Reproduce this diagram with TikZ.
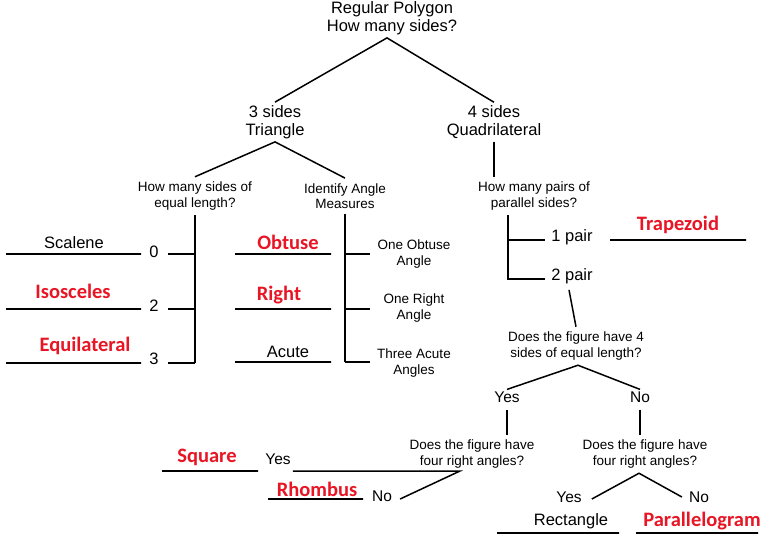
\documentclass[tikz,border=0pt]{standalone}
\usepackage{fontspec}
\setmainfont{Liberation Sans}
\newfontfamily\ansfont{Carlito}
\usetikzlibrary{positioning}
\definecolor{ansred}{RGB}{232,22,36}

\begin{document}
\begin{tikzpicture}[x=1pt, y=-1pt,
  lbl/.style={font=\fontsize{16.5}{18}\selectfont, align=center,
              inner xsep=2pt, inner ysep=3pt},
  qst/.style={font=\fontsize{13.5}{15.5}\selectfont, align=center,
              inner xsep=2pt, inner ysep=5pt},
  yn/.style={font=\fontsize{15.5}{17}\selectfont, inner sep=2pt},
  ans/.style={font=\ansfont\bfseries\fontsize{20.5}{22}\selectfont,
              text=ansred, inner sep=0pt},
  blank/.style={draw, line width=1.5pt, minimum height=0pt, inner sep=0pt},
  ln/.style={line width=1.5pt}
]
\fill[white] (0,0) rectangle (768,547);
\useasboundingbox (0,0) rectangle (768,547);

% Top question
\node[lbl] (root) at (392,18) {Regular Polygon\\How many sides?};
\node[lbl] (tri) at (275,122) {3 sides\\Triangle};
\node[lbl] (quad) at (494,122) {4 sides\\Quadrilateral};
\draw[ln] (tri.north) -- ([xshift=-5pt]root.south) -- (quad.north);

% Triangle questions
\node[qst] (qsides) at (195,196) {How many sides of\\equal length?};
\node[qst] (qangle) at (345,196) {Identify Angle\\Measures};
\draw[ln] (qsides.north) -- (tri.south) -- (qangle.north);

% Sides of equal length
\node[lbl] (n0) at (154,252) {0};
\node[lbl] (n2) at (154,306) {2};
\node[lbl] (n3) at (154,359) {3};
\node[blank, minimum width=135pt] (b0) at (73.5,254) {};
\node[blank, minimum width=135pt] (b2) at (73.5,309) {};
\node[blank, minimum width=135pt] (b3) at (73.5,363) {};
\node[lbl] (scal) at (74,243) {Scalene};
\node[ans] (isos) at (73,291) {Isosceles};
\node[ans] (equi) at (85,346) {Equilateral};
\draw[ln] (qsides.south) -- (qsides.south |- b3);
\foreach \n/\b in {n0/b0, n2/b2, n3/b3}
  \draw[ln] ([xshift=7pt]\n.east |- \b) -- (qsides.south |- \b);

% Angle measures
\node[blank, minimum width=96pt] (bo) at (283,254) {};
\node[blank, minimum width=96pt] (br) at (283,309) {};
\node[blank, minimum width=96pt] (ba) at (283,362) {};
\node[ans] (obt) at (288,242) {Obtuse};
\node[ans] (rgt) at (279,295) {Right};
\node[lbl] (acu) at (288,352) {Acute};
\node[qst] (ao) at (414,254) {One Obtuse\\Angle};
\node[qst] (ar) at (414,308) {One Right\\Angle};
\node[qst] (aa) at (414,363) {Three Acute\\Angles};
\draw[ln] (qangle.south) -- (qangle.south |- ba);
\foreach \b in {bo, br, ba}
  \draw[ln] (qangle.south |- \b) -- ([xshift=-5pt]ao.west |- \b);

% Parallel sides
\node[qst] (qpairs) at (534,196) {How many pairs of\\parallel sides?};
\draw[ln] (quad.south) -- (quad.south |- qpairs.north);
\node[lbl] (p1) at (572,237) {1 pair};
\node[lbl] (p2) at (572,276) {2 pair};
\node[blank, minimum width=136pt] (btr) at (678,240) {};
\node[ans] (trap) at (678,225) {Trapezoid};
\coordinate (pbar) at (508,279);
\draw[ln] (pbar |- qpairs.south) -- (pbar) -- ([xshift=-4pt]p2.west |- pbar);
\draw[ln] (pbar |- btr) -- ([xshift=-4pt]p1.west |- btr);

% Equal sides?
\node[qst] (q4) at (576,346) {Does the figure have 4\\sides of equal length?};
\draw[ln] ([xshift=-3pt,yshift=-3pt]p2.south) -- (q4.north);
\node[yn] (yes1) at (507,397) {Yes};
\node[yn] (no1) at (640,397) {No};
\draw[ln] (yes1.north) -- ([xshift=2pt]q4.south) -- (no1.north);

% Right angles?
\node[qst] (qra) at (472,454) {Does the figure have\\four right angles?};
\node[qst] (qrb) at (645,454) {Does the figure have\\four right angles?};
\draw[ln] ([yshift=-5pt]yes1.south) -- (yes1.south |- qra.north);
\draw[ln] ([yshift=-5pt]no1.south) -- (no1.south |- qrb.north);

% Square / Rhombus
\node[yn] (yes2) at (278,459) {Yes};
\node[yn] (no2) at (382,496) {No};
\coordinate (jra) at (460,471);
\draw[ln] (yes2.east |- jra) -- (jra) -- ([xshift=6pt,yshift=-3pt]no2.east);
\node[blank, minimum width=96pt] (bsq) at (210,471) {};
\node[blank, minimum width=95pt] (brh) at (315.5,499) {};
\node[ans] (sq) at (207,457) {Square};
\node[ans] (rho) at (317,489) {Rhombus};

% Rectangle / Parallelogram
\node[yn] (yes3) at (569,497) {Yes};
\node[yn] (no3) at (699,497) {No};
\draw[ln] ([xshift=8pt,yshift=-2pt]yes3.east) -- ([xshift=-6pt]qrb.south)
  -- ([xshift=-5pt]no3.west);
\node[blank, minimum width=122pt] (brc) at (558,533) {};
\node[blank, minimum width=122pt] (bpa) at (697,533) {};
\node[lbl] (rect) at (571,521) {Rectangle};
\node[ans] (para) at (702,521) {Parallelogram};
\end{tikzpicture}
\end{document}
